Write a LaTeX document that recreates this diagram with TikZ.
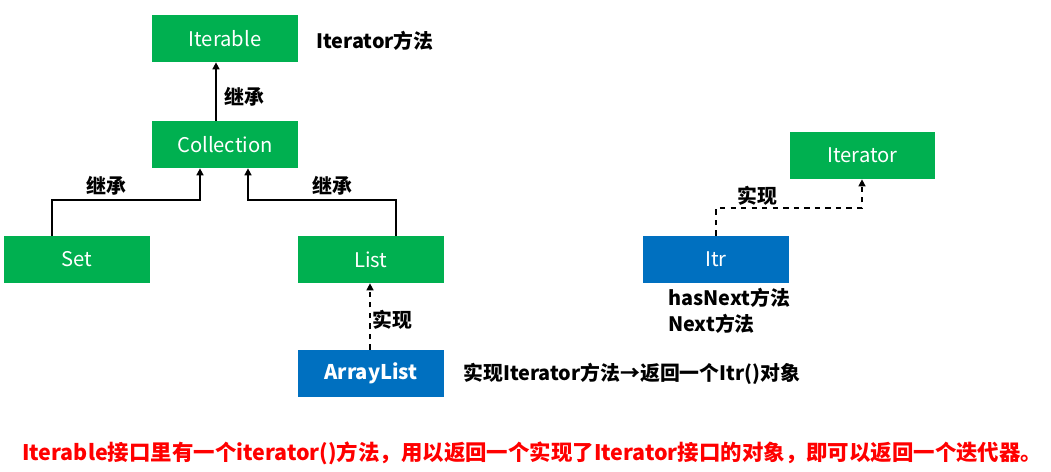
\documentclass[tikz,border=0pt]{standalone}
\usepackage{fontspec}
\setmainfont{Noto Sans CJK SC}
\usetikzlibrary{arrows.meta}
\definecolor{gbox}{HTML}{00B050}
\definecolor{bbox}{HTML}{0070C0}
\tikzset{
  gb/.style={fill=gbox,text=white,minimum width=2.92cm,minimum height=0.94cm,inner sep=0pt,font=\fontsize{11.5}{13}\selectfont},
  bb/.style={gb,fill=bbox},
  lab/.style={font=\bfseries\fontsize{11.3}{13}\selectfont,inner sep=0pt},
  arr/.style={-{Triangle[length=4pt,width=4pt]},line width=0.8pt},
  darr/.style={arr,dashed},
}
\begin{document}
\begin{tikzpicture}[x=0.02cm,y=-0.02cm]
\useasboundingbox (0,0) rectangle (1051,472);
\node[gb] (iterable) at (225,38.5) {Iterable};
\node[gb] (coll) at (225,144.5) {Collection};
\node[gb] (set) at (77,259.5) {Set};
\node[gb] (list) at (371,259.5) {List};
\node[bb,font=\bfseries\fontsize{11.5}{13}\selectfont] (al) at (371,373.5) {ArrayList};
\node[gb] (iterator) at (862.5,155.5) {Iterator};
\node[bb] (itr) at (716,259.5) {Itr};
\coordinate (c1) at (216,0);
\draw[arr] (coll.north -| c1) -- (iterable.south -| c1);
\node[lab] at (244,97) {继承};
\coordinate (s1) at (52,200);
\coordinate (s2) at (200,200);
\draw[arr] (set.north -| s1) -- (s1) -- (s2) -- (coll.south -| s2);
\node[lab] at (106,186) {继承};
\coordinate (l1) at (396,200);
\coordinate (l2) at (248,200);
\draw[arr] (list.north -| l1) -- (l1) -- (l2) -- (coll.south -| l2);
\node[lab] at (332,186) {继承};
\coordinate (a1) at (370,0);
\draw[darr] (al.north -| a1) -- (list.south -| a1);
\node[lab] at (392,320) {实现};
\coordinate (i1) at (716,208);
\coordinate (i2) at (862,208);
\draw[darr] (itr.north) -- (i1) -- (i2) -- (iterator.south -| i2);
\node[lab] at (757,196) {实现};
\node[lab,anchor=west] (t1) at (316,41) {Iterator方法};
\node[lab,anchor=west] (t2) at (668,298) {hasNext方法};
\node[lab,anchor=west] (t3) at (668,324) {Next方法};
\node[lab,anchor=west] (t4) at (463,374) {实现Iterator方法→返回一个Itr()对象};
\node[lab,anchor=west,text=red,font=\bfseries\fontsize{12.2}{14}\selectfont] (t5) at (22,453) {Iterable接口里有一个iterator()方法，用以返回一个实现了Iterator接口的对象，即可以返回一个迭代器。};
\end{tikzpicture}
\end{document}
